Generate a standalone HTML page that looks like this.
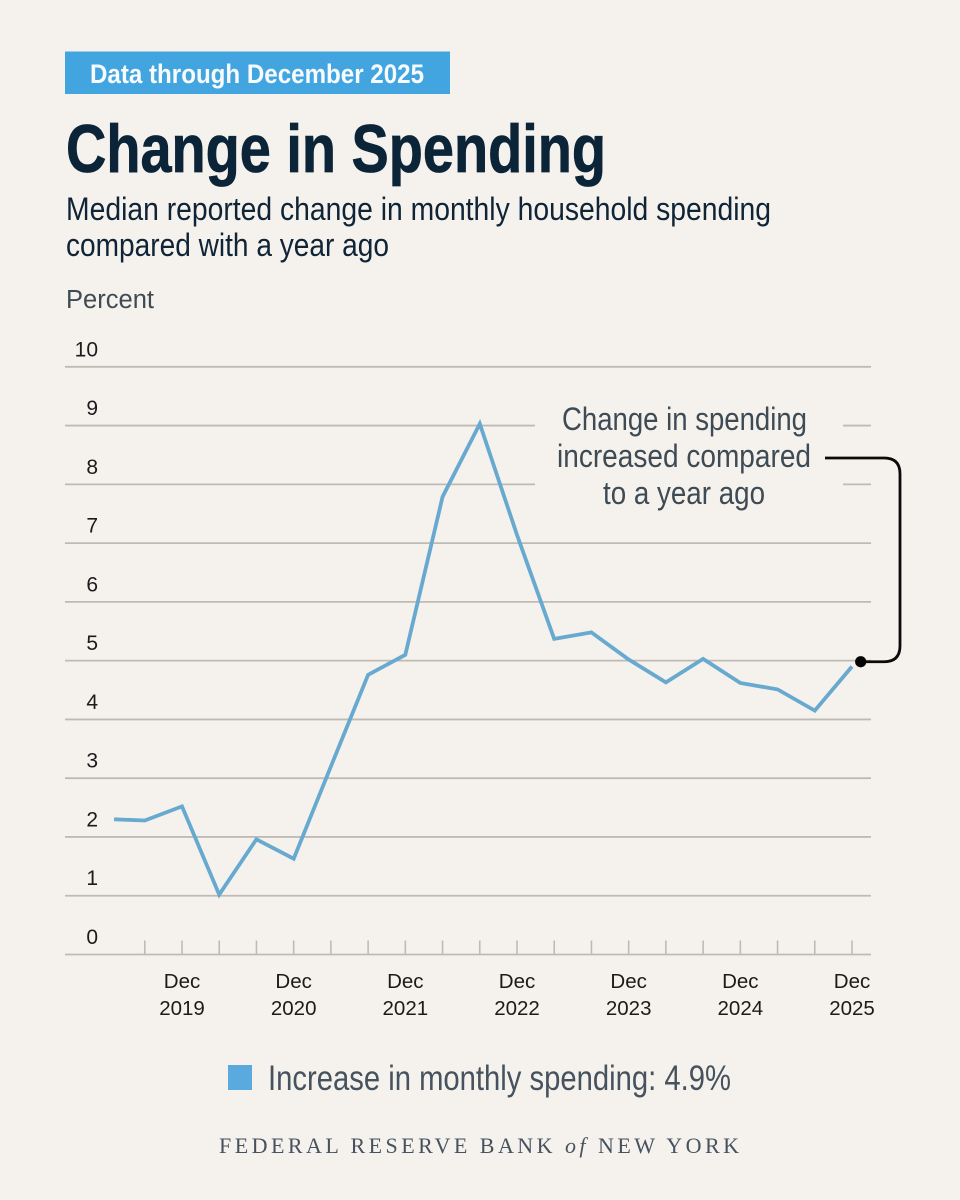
<!DOCTYPE html>
<html lang="en">
<head>
<meta charset="utf-8">
<title>Change in Spending</title>
<style>
html,body{margin:0;padding:0;background:#f5f2ed;}
svg{display:block;}
.narrow{font-family:"Liberation Sans Narrow","Liberation Sans",sans-serif;}
.sans{font-family:"Liberation Sans",sans-serif;}
.serif{font-family:"Liberation Serif",serif;}
</style>
</head>
<body>
<svg id="chart" width="960" height="1200" viewBox="0 0 960 1200" xmlns="http://www.w3.org/2000/svg">
  <rect x="0" y="0" width="960" height="1200" fill="#f5f2ed"/>
  <rect x="65" y="51.5" width="385" height="42.5" fill="#42a5df"/>
  <text class="narrow" x="90" y="83" font-size="27" font-weight="700" fill="#f8fbfd" textLength="334" lengthAdjust="spacingAndGlyphs">Data through December 2025</text>
  <text class="narrow" x="66" y="172" font-size="68" font-weight="700" fill="#0c2438" stroke="#0c2438" stroke-width="0.8" textLength="540" lengthAdjust="spacingAndGlyphs">Change in Spending</text>
  <text class="narrow" x="66" y="220" font-size="32" fill="#0f2436" textLength="705" lengthAdjust="spacingAndGlyphs">Median reported change in monthly household spending</text>
  <text class="narrow" x="66" y="256" font-size="32" fill="#0f2436" textLength="323" lengthAdjust="spacingAndGlyphs">compared with a year ago</text>
  <text class="sans" x="66" y="308" font-size="25.5" fill="#3f4a52" textLength="88" lengthAdjust="spacingAndGlyphs">Percent</text>
  <g id="grid"></g>
  <g id="y-labels"></g>
  <g id="x-ticks"></g>
  <g id="x-labels"></g>
  <rect x="535" y="404" width="308" height="104" fill="#f5f2ed"/>
  <path id="spending-line" fill="none" stroke="#68a9cf" stroke-width="3.8" stroke-linejoin="miter"/>
  <g class="narrow" font-size="32" fill="#3e4b55">
    <text x="562" y="430" textLength="245" lengthAdjust="spacingAndGlyphs">Change in spending</text>
    <text x="557" y="467" textLength="254" lengthAdjust="spacingAndGlyphs">increased compared</text>
    <text x="603" y="504" textLength="162" lengthAdjust="spacingAndGlyphs">to a year ago</text>
  </g>
  <path id="callout-line" fill="none" stroke="#0a0a0a" stroke-width="2.8"/>
  <circle id="callout-dot" r="5.6" fill="#050505"/>
  <rect x="228" y="1065" width="24" height="25" fill="#5aa9df"/>
  <text class="narrow" x="268" y="1090" font-size="35" fill="#46525d" textLength="463" lengthAdjust="spacingAndGlyphs">Increase in monthly spending: 4.9%</text>
  <text class="serif" x="219" y="1153" font-size="22" fill="#46525f" textLength="520" lengthAdjust="spacing">FEDERAL RESERVE BANK <tspan font-style="italic">of</tspan> NEW YORK</text>
</svg>
<script>
var monthsFromDec2019 = [-7.3, -4, 0, 4, 8, 12, 16, 20, 24, 28, 32, 36, 40, 44, 48, 52, 56, 60, 64, 68, 72];
var spendingChange = [2.30, 2.28, 2.52, 1.02, 1.96, 1.63, 3.20, 4.76, 5.10, 7.79, 9.03, 7.14, 5.37, 5.48, 5.02, 4.63, 5.03, 4.62, 4.51, 4.15, 4.90];
var yTickValues = [0, 1, 2, 3, 4, 5, 6, 7, 8, 9, 10];
var xTickMonths = [-4, 0, 4, 8, 12, 16, 20, 24, 28, 32, 36, 40, 44, 48, 52, 56, 60, 64, 68, 72];
var xLabelMonths = [0, 12, 24, 36, 48, 60, 72];
var xLabelTop = ['Dec', 'Dec', 'Dec', 'Dec', 'Dec', 'Dec', 'Dec'];
var xLabelBottom = ['2019', '2020', '2021', '2022', '2023', '2024', '2025'];

var NS = 'http://www.w3.org/2000/svg';
function xScale(m) { return 182 + m * (670 / 72); }
function yScale(v) { return 954.5 - v * 58.77; }
function make(tag, attrs, parent, text) {
  var el = document.createElementNS(NS, tag);
  for (var k in attrs) { el.setAttribute(k, attrs[k]); }
  if (text !== undefined) { el.textContent = text; }
  parent.appendChild(el);
  return el;
}
var grid = document.getElementById('grid');
var yLabels = document.getElementById('y-labels');
yTickValues.forEach(function (v) {
  var line = make('line', { x1: 65, x2: 871, y1: yScale(v), y2: yScale(v), stroke: '#bfbbb4', 'stroke-width': 1.8 }, grid);
  
  
  var label = make('text', { x: 98, y: yScale(v) - 10.5, 'text-anchor': 'end', 'font-size': 21, fill: '#1b1b1b', 'class': 'sans' }, yLabels, String(v));
  
  
});
var xTicks = document.getElementById('x-ticks');
xTickMonths.forEach(function (m) {
  var tick = make('line', { x1: xScale(m), x2: xScale(m), y1: 940.5, y2: 954.5, stroke: '#bfbbb4', 'stroke-width': 1.6 }, xTicks);
  
  
});
var xLabels = document.getElementById('x-labels');
xLabelMonths.forEach(function (m, i) {
  var top = make('text', { x: xScale(m), y: 988, 'text-anchor': 'middle', 'font-size': 20.5, fill: '#1b1b1b', 'class': 'sans' }, xLabels, xLabelTop[i]);
  
  
  var bottom = make('text', { x: xScale(m), y: 1015, 'text-anchor': 'middle', 'font-size': 20.5, fill: '#1b1b1b', 'class': 'sans' }, xLabels, xLabelBottom[i]);
  
  
});
var linePoints = spendingChange.map(function (v, i) {
  return xScale(monthsFromDec2019[i]).toFixed(1) + ',' + yScale(v).toFixed(1);
});
document.getElementById('spending-line').setAttribute('d', 'M' + linePoints.join('L'));
var lastIndex = spendingChange.length - 1;
var dotX = xScale(monthsFromDec2019[lastIndex]) + 8.7;
var dotY = yScale(spendingChange[lastIndex]) - 4.8;
var dot = document.getElementById('callout-dot');
dot.setAttribute('cx', dotX);
dot.setAttribute('cy', dotY);
document.getElementById('callout-line').setAttribute('d',
  'M825 458H884Q900 458 900 474V' + (dotY - 16) + 'Q900 ' + dotY + ' 884 ' + dotY + 'H' + dotX);
</script>
</body>
</html>
